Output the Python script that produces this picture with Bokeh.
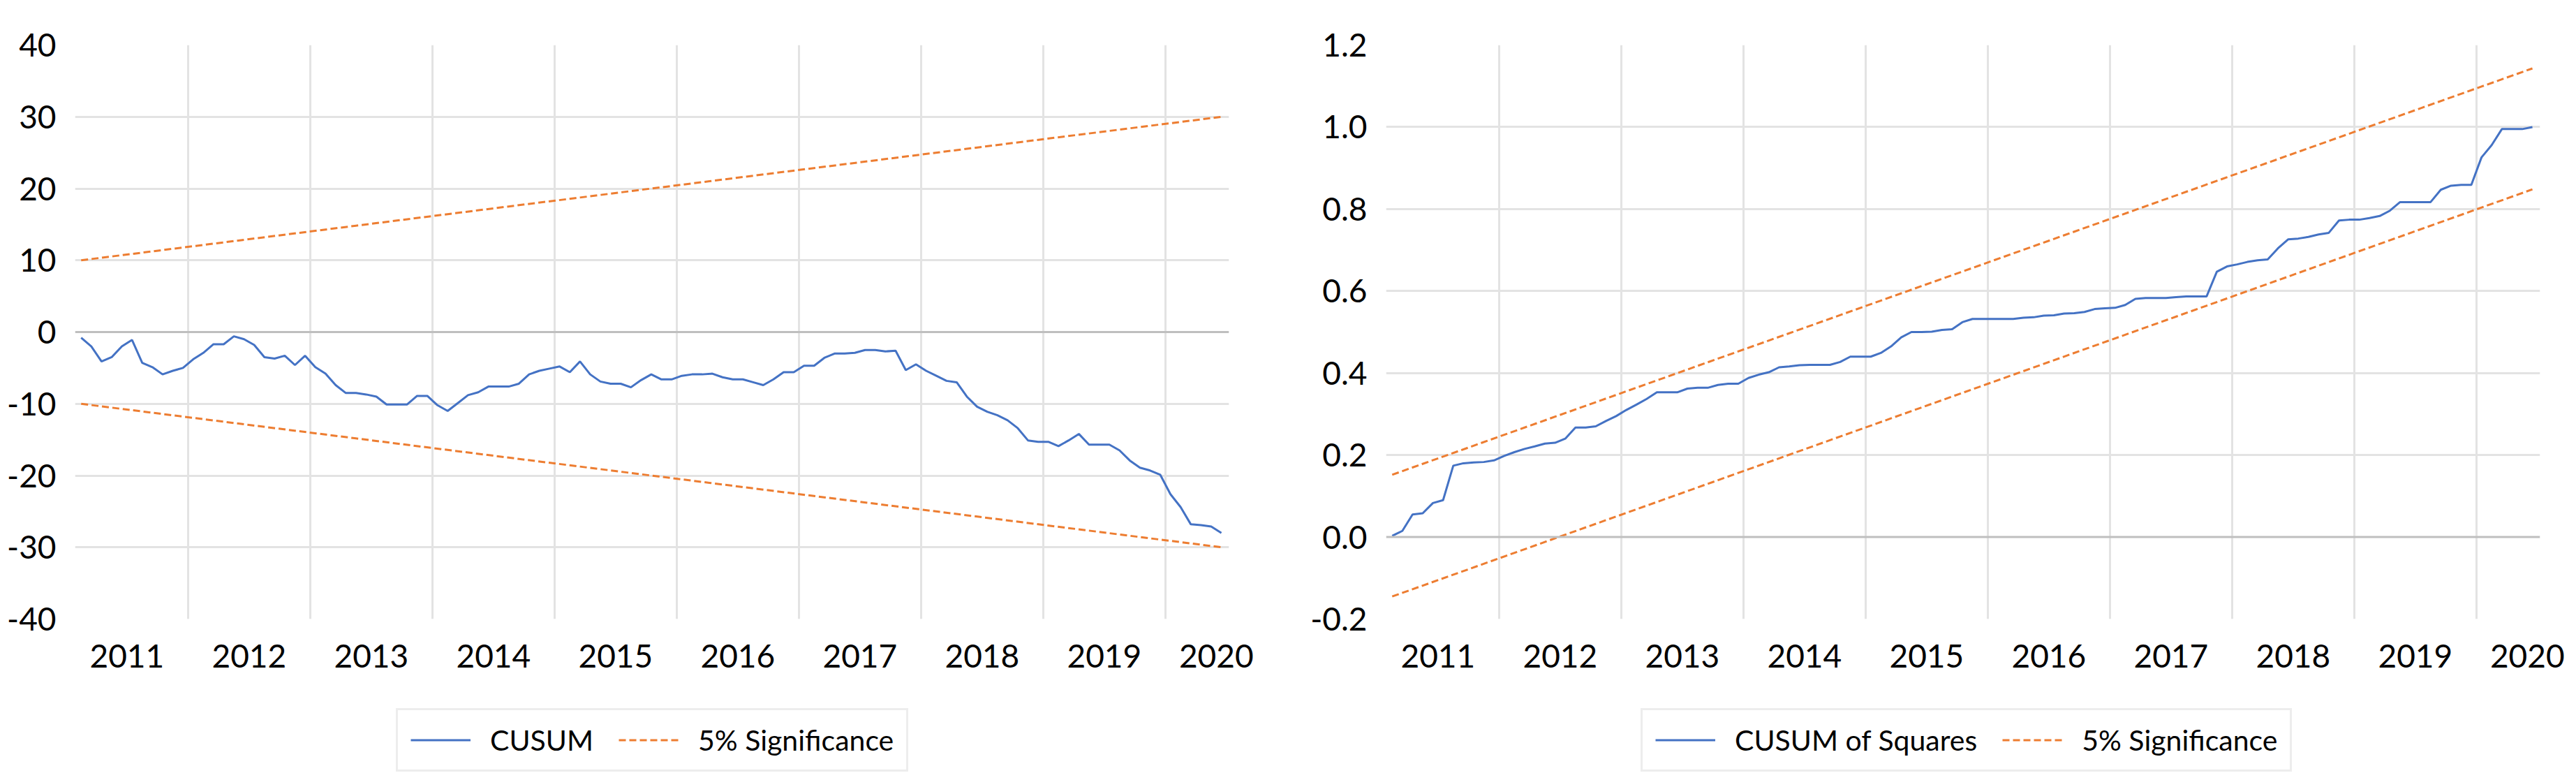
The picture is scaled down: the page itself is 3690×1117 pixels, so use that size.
from bokeh.plotting import figure
from bokeh.models import (FixedTicker, Span, Legend, LegendItem, Range1d,
                          NumeralTickFormatter)
from bokeh.layouts import row, column
from bokeh.embed import file_html
from bokeh.resources import INLINE

# ---------------- data ----------------
start_year, start_month = 2011, 2          # first observation: 2011M02
years = ["2011", "2012", "2013", "2014", "2015", "2016", "2017", "2018", "2019", "2020"]

cusum = [-0.8, -2.0, -4.1, -3.5, -2.0, -1.1, -4.3, -4.9, -5.9, -5.4,
         -5.0, -3.8, -2.9, -1.7, -1.7, -0.6, -1.0, -1.8, -3.5, -3.7,
         -3.3, -4.6, -3.3, -4.9, -5.8, -7.4, -8.5, -8.5, -8.7, -9.0,
         -10.1, -10.1, -10.1, -8.9, -8.9, -10.2, -11.0, -9.9, -8.8, -8.4,
         -7.6, -7.6, -7.6, -7.2, -5.9, -5.4, -5.1, -4.8, -5.6, -4.1,
         -5.9, -6.9, -7.2, -7.2, -7.7, -6.7, -5.9, -6.6, -6.6, -6.1,
         -5.9, -5.9, -5.8, -6.3, -6.6, -6.6, -7.0, -7.4, -6.6, -5.6,
         -5.6, -4.7, -4.7, -3.6, -3.0, -3.0, -2.9, -2.5, -2.5, -2.7,
         -2.6, -5.3, -4.5, -5.4, -6.1, -6.8, -7.0, -9.0, -10.4, -11.1,
         -11.6, -12.3, -13.4, -15.1, -15.3, -15.3, -15.9, -15.1, -14.2, -15.7,
         -15.7, -15.7, -16.5, -17.9, -18.9, -19.3, -19.9, -22.6, -24.4, -26.8,
         -26.9, -27.1, -28.0]

cusum_sq = [0.003, 0.015, 0.055, 0.058, 0.083, 0.090, 0.174, 0.180, 0.182, 0.183,
            0.187, 0.198, 0.207, 0.215, 0.221, 0.228, 0.230, 0.240, 0.267, 0.267,
            0.270, 0.283, 0.295, 0.310, 0.323, 0.337, 0.353, 0.353, 0.353, 0.362,
            0.364, 0.364, 0.371, 0.374, 0.374, 0.388, 0.396, 0.402, 0.414, 0.416,
            0.419, 0.420, 0.420, 0.420, 0.427, 0.440, 0.440, 0.440, 0.449, 0.465,
            0.487, 0.500, 0.500, 0.501, 0.505, 0.507, 0.524, 0.532, 0.532, 0.532,
            0.532, 0.532, 0.535, 0.536, 0.540, 0.541, 0.545, 0.546, 0.549, 0.556,
            0.558, 0.559, 0.566, 0.581, 0.583, 0.583, 0.583, 0.585, 0.587, 0.587,
            0.587, 0.647, 0.660, 0.665, 0.671, 0.675, 0.677, 0.704, 0.726, 0.728,
            0.732, 0.738, 0.742, 0.772, 0.774, 0.774, 0.778, 0.783, 0.796, 0.817,
            0.817, 0.817, 0.817, 0.847, 0.857, 0.859, 0.859, 0.926, 0.956, 0.995,
            0.995, 0.995, 1.000]

# 5% significance bounds (straight lines: first and last observation)
cusum_upper = [10.0, 30.0]
cusum_lower = [-10.0, -30.0]
sq_upper = [0.152, 1.143]
sq_lower = [-0.145, 0.848]

# ---------------- helpers ----------------
n = len(cusum)
x = list(range(n))
x_ends = [0, n - 1]
month_of = [((start_month - 1 + i) % 12) + 1 for i in x]
jan_idx = [i for i in x if month_of[i] == 1]
year_grid = [i - 0.5 for i in jan_idx]
label_pos = [min(jan + 5.5, n - 1.5) for jan in [jan_idx[0] - 12] + jan_idx]

BLUE = "#4472C4"
ORANGE = "#ED7D31"
GRID = "#e3e3e3"
FONT = "Lato"
DASH = "10 5"
TOP_H = 986
LEG_H = 131


def style(p, yticks, grid_ticks, fmt):
    p.outline_line_color = None
    p.background_fill_color = "white"
    p.border_fill_color = "white"
    p.min_border_top = 64
    p.min_border_bottom = 100
    p.xaxis.ticker = FixedTicker(ticks=label_pos)
    p.xaxis.major_label_overrides = {pos: y for pos, y in zip(label_pos, years)}
    p.yaxis.ticker = FixedTicker(ticks=yticks)
    p.yaxis.formatter = NumeralTickFormatter(format=fmt)
    for ax in (p.xaxis[0], p.yaxis[0]):
        ax.axis_line_color = None
        ax.major_tick_line_color = None
        ax.minor_tick_line_color = None
        ax.major_label_text_font = FONT
        ax.major_label_text_font_size = "46px"
        ax.major_label_text_color = "#000000"
    p.xaxis.major_label_standoff = 30
    p.yaxis.major_label_standoff = 21
    p.xgrid.ticker = FixedTicker(ticks=year_grid)
    p.ygrid.ticker = FixedTicker(ticks=grid_ticks)
    for g in (p.xgrid[0], p.ygrid[0]):
        g.grid_line_color = GRID
        g.grid_line_width = 3
    p.add_layout(Span(location=0, dimension="width", line_color="#bfbfbf", line_width=3))


def legend_fig(width, series, upper, labels, x_off):
    # legend-only strip: ranges chosen so the series itself is out of view
    f = figure(width=width, height=LEG_H, output_backend="svg", toolbar_location=None,
               x_axis_type=None, y_axis_type=None, min_border=0,
               x_range=Range1d(-1000, -999), y_range=Range1d(-1000, -999))
    f.outline_line_color = None
    f.grid.visible = False
    a = f.line(x, series, line_color=BLUE, line_width=3)
    b = f.line(x_ends, upper, line_color=ORANGE, line_width=3, line_dash=DASH)
    leg = Legend(items=[LegendItem(label=labels[0], renderers=[a]),
                        LegendItem(label=labels[1], renderers=[b])],
                 orientation="horizontal", location=(x_off, 12))
    leg.label_text_font = FONT
    leg.label_text_font_size = "41px"
    leg.label_text_color = "#000000"
    leg.glyph_width = 86
    leg.glyph_height = 47
    leg.label_height = 47
    leg.label_standoff = 28
    leg.spacing = 36
    leg.padding = 18
    leg.margin = 0
    leg.border_line_color = "#dcdcdc"
    leg.border_line_width = 3
    leg.background_fill_color = "white"
    f.add_layout(leg, "center")
    return f


# ---------------- left: CUSUM ----------------
p1 = figure(width=1850, height=TOP_H, output_backend="svg", toolbar_location=None,
            x_range=Range1d(-0.6, n - 0.25), y_range=Range1d(-40, 40),
            min_border_left=107, min_border_right=90)
style(p1, [-40, -30, -20, -10, 0, 10, 20, 30, 40], [-30, -20, -10, 10, 20, 30], "0")
p1.line(x, cusum, line_color=BLUE, line_width=3)
p1.line(x_ends, cusum_upper, line_color=ORANGE, line_width=3, line_dash=DASH)
p1.line(x_ends, cusum_lower, line_color=ORANGE, line_width=3, line_dash=DASH)

# ---------------- right: CUSUM of Squares ----------------
p2 = figure(width=1840, height=TOP_H, output_backend="svg", toolbar_location=None,
            x_range=Range1d(-0.6, n - 0.25), y_range=Range1d(-0.2, 1.2),
            min_border_left=135, min_border_right=52)
style(p2, [-0.2, 0.0, 0.2, 0.4, 0.6, 0.8, 1.0, 1.2], [0.2, 0.4, 0.6, 0.8, 1.0], "0.0")
p2.line(x, cusum_sq, line_color=BLUE, line_width=3)
p2.line(x_ends, sq_upper, line_color=ORANGE, line_width=3, line_dash=DASH)
p2.line(x_ends, sq_lower, line_color=ORANGE, line_width=3, line_dash=DASH)

l1 = legend_fig(1850, cusum, cusum_upper, ["CUSUM", "5% Significance"], 567)
l2 = legend_fig(1840, cusum_sq, sq_upper, ["CUSUM of Squares", "5% Significance"], 500)

layout = column(row(p1, p2), row(l1, l2))
open("out.html", "w").write(file_html(layout, INLINE))
